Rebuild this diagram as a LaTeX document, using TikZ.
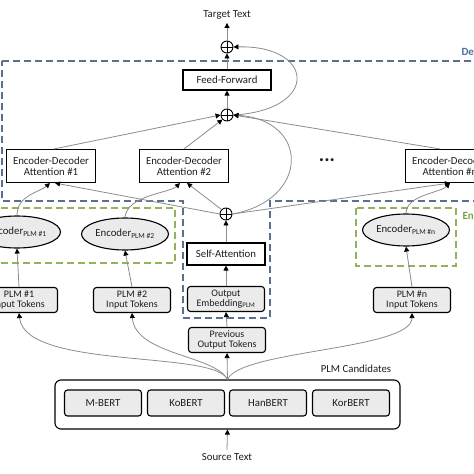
\documentclass[tikz,border=0pt]{standalone}
\usepackage{fontspec}
\setmainfont{Carlito}
\usetikzlibrary{shapes.geometric, arrows, arrows.meta, positioning, fit, calc}
\definecolor{decblue}{HTML}{5B6F8F}
\definecolor{declabel}{HTML}{4A6FA5}
\definecolor{encgreen}{HTML}{93B35A}
\definecolor{enclabel}{HTML}{77A33F}
\definecolor{linegray}{HTML}{8C8C8C}
\definecolor{boxgray}{HTML}{EBEBEB}
\definecolor{txt}{HTML}{1E1E1E}

\begin{document}
\begin{tikzpicture}[x=1pt, y=-1pt, font=\fontsize{10.8}{11}\selectfont, text=txt,
    blockbox/.style={draw, line width=1.1pt, align=center, inner sep=1pt},
    tokbox/.style={draw, line width=1.1pt, rounded corners=3pt, fill=boxgray, align=center, inner sep=1pt, font=\fontsize{10}{10}\selectfont, minimum width=77pt, minimum height=25pt},
    encell/.style={ellipse, draw, line width=1.1pt, fill=boxgray, minimum width=87pt, minimum height=32pt, inner sep=0pt},
    addnode/.style={circle, draw, line width=0.9pt, minimum size=12pt, inner sep=0pt,
        path picture={\draw[line width=0.9pt] (path picture bounding box.north) -- (path picture bounding box.south)
            (path picture bounding box.west) -- (path picture bounding box.east);}},
    flow/.style={draw=linegray, line width=0.8pt, -{Triangle[length=5pt, width=5pt, color=black]}},
    decdash/.style={draw=decblue, line width=1.4pt, dash pattern=on 7pt off 4pt},
    encdash/.style={draw=encgreen, line width=1.2pt, dash pattern=on 7pt off 4pt}]
    \useasboundingbox (0,0) rectangle (474,474);
    \clip (0,0) rectangle (474,474);

    % Decoder and encoder regions
    \draw[decdash] (2,61) -- (490,61) -- (490,201) -- (270,201) -- (270,318) -- (183,318) -- (183,201) -- (2,201) -- cycle;
    \node[anchor=west, text=declabel, font=\fontsize{11}{11}\selectfont\bfseries] (declab) at (458,52) {Decoder};
    \draw[encdash] (-10,208) rectangle (175,263);
    \draw[encdash] (356,208) rectangle (456,266);
    \node[anchor=west, text=enclabel, font=\fontsize{11}{11}\selectfont\bfseries] (enclab) at (459,216) {Encoder};

    % Decoder stack
    \node (target) at (227,15) {Target Text};
    \node[addnode] (addtop) at (227,47) {};
    \node[blockbox, minimum width=88pt, minimum height=20pt] (ffwd) at (227,80) {Feed-Forward};
    \node[addnode] (addmid) at (227,115) {};
    \node[blockbox, minimum width=89pt, minimum height=33pt] (eda1) at (51,166) {Encoder-Decoder\\Attention \#1};
    \node[blockbox, minimum width=89pt, minimum height=33pt] (eda2) at (184,166) {Encoder-Decoder\\Attention \#2};
    \node[blockbox, minimum width=89pt, minimum height=33pt] (edan) at (450,166) {Encoder-Decoder\\Attention \#n};
    \node[font=\fontsize{20}{20}\selectfont\bfseries] (dots) at (327,160) {...};
    \node[addnode] (addlow) at (226,214) {};
    \node[blockbox, minimum width=78pt, minimum height=22pt] (selfatt) at (226,254) {Self-Attention};
    \node[tokbox] (outemb) at (226,299) {Output\\Embedding\textsubscript{PLM}};
    \node[tokbox] (prevtok) at (227,340) {Previous\\Output Tokens};

    % Encoders
    \node[encell] (enc1) at (17,232) {Encoder\textsubscript{PLM \#1}};
    \node[encell] (enc2) at (125,234) {Encoder\textsubscript{PLM \#2}};
    \node[encell] (encn) at (406,230) {Encoder\textsubscript{PLM \#n}};
    \node[tokbox] (plm1) at (19,300) {PLM \#1\\Input Tokens};
    \node[tokbox] (plm2) at (132,300) {PLM \#2\\Input Tokens};
    \node[tokbox] (plmn) at (412,300) {PLM \#n\\Input Tokens};

    % PLM candidates
    \node[draw, line width=1.1pt, rounded corners=6pt, minimum width=345pt, minimum height=49pt] (cands) at (227.5,404.5) {};
    \node[tokbox, font=\fontsize{10.8}{11}\selectfont, minimum height=26pt] (mbert) at (103,403) {M-BERT};
    \node[tokbox, font=\fontsize{10.8}{11}\selectfont, minimum height=26pt] (kobert) at (186,403) {KoBERT};
    \node[tokbox, font=\fontsize{10.8}{11}\selectfont, minimum height=26pt] (hanbert) at (268,403) {HanBERT};
    \node[tokbox, font=\fontsize{10.8}{11}\selectfont, minimum height=26pt] (korbert) at (351,403) {KorBERT};
    \node (candlab) at (356,369) {PLM Candidates};
    \node (source) at (227,457) {Source Text};

    % Connectors
    \draw[flow] (addtop.north) -- (target.south);
    \draw[flow] (ffwd.north) -- (addtop.south);
    \draw[flow] (addmid.north) -- (ffwd.south);
    \draw[flow] (addmid.east) .. controls (320,110) and (315,45) .. (addtop.east);
    \draw[flow] ([xshift=3pt]eda1.north) -- (addmid.west);
    \draw[flow] (eda2.north) -- (addmid.south west);
    \draw[flow] ([xshift=-10pt]edan.north) -- (addmid.east);
    \draw[flow] (selfatt.north) -- (addlow.south);
    \draw[flow] (outemb.north) -- (selfatt.south);
    \draw[flow] (prevtok.north) -- (outemb.south);
    \draw[flow] (addlow.west) -- ([xshift=4pt]eda1.south);
    \draw[flow] (addlow.north west) -- ([xshift=3pt]eda2.south);
    \draw[flow] (addlow.east) -- (edan.south);
    \draw[flow] (addlow.east) .. controls (310,200) and (310,120) .. (addmid.east);
    \draw[flow] (enc1.north) .. controls (17,195) and (40,192) .. ([xshift=-1pt]eda1.south);
    \draw[flow] (enc2.north) .. controls (127,195) and (170,193) .. ([xshift=-4pt]eda2.south);
    \draw[flow] (encn.north) .. controls (406,195) and (440,193) .. (edan.south);
    \draw[flow] (plm1.north) -- (enc1.south);
    \draw[flow] (plm2.north) -- (enc2.south);
    \draw[flow] (plmn.north) -- (encn.south);
    \draw[flow] (cands.north) -- (prevtok.south);
    \draw[flow] (cands.north) .. controls (215,350) and (25,370) .. (plm1.south);
    \draw[flow] (cands.north) .. controls (215,355) and (135,355) .. (plm2.south);
    \draw[flow] (cands.north) .. controls (240,350) and (412,350) .. (plmn.south);
    \draw[flow] (source.north) -- (cands.south);
\end{tikzpicture}
\end{document}
